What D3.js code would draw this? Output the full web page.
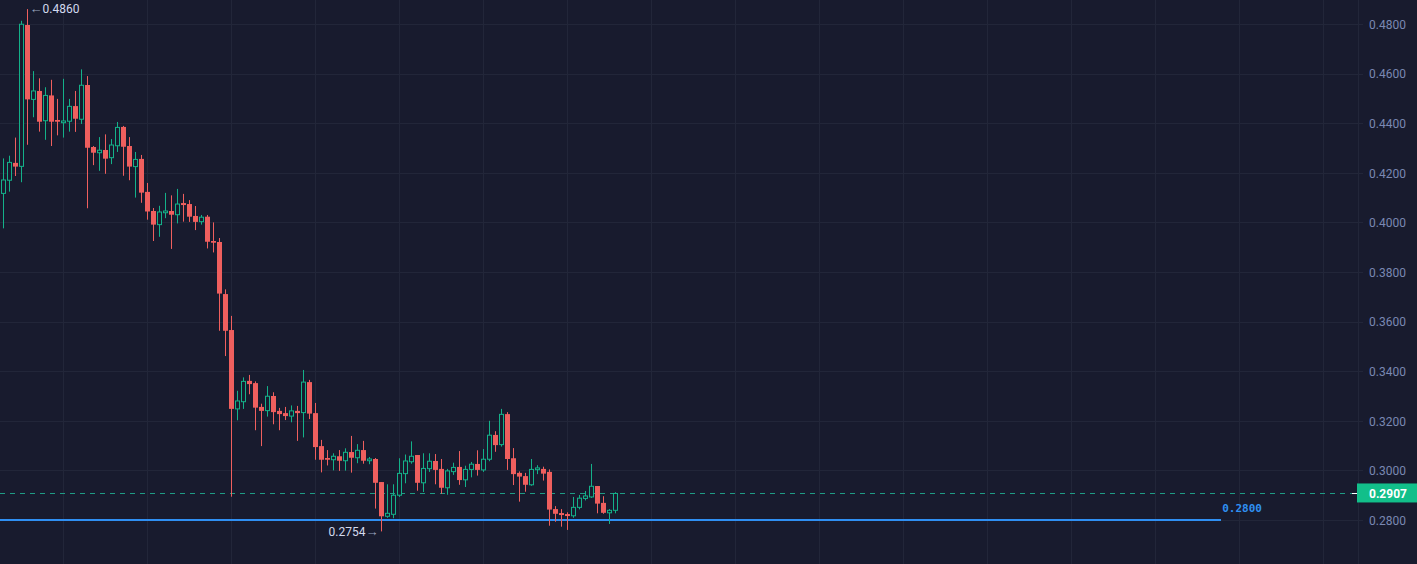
<!DOCTYPE html>
<html>
<head>
<meta charset="utf-8">
<script src="https://cdn.jsdelivr.net/npm/d3@7"></script>
<style>
  html, body { margin: 0; padding: 0; background: #181b2e; overflow: hidden; }
  svg { display: block; }
</style>
</head>
<body>
<svg id="chart" width="1417" height="564"></svg>
<script>
const opens = [0.4117,0.4170,0.4240,0.4226,0.4796,0.4496,0.4530,0.4410,0.4512,0.4413,
0.4402,0.4408,0.4469,0.4416,0.4554,0.4304,0.4281,0.4292,0.4261,0.4309,
0.4385,0.4308,0.4225,0.4256,0.4123,0.4046,0.3991,0.4039,0.4046,0.4031,
0.4078,0.4074,0.4026,0.4003,0.4023,0.3925,0.3921,0.3711,0.3566,0.3248,
0.3277,0.3361,0.3352,0.3256,0.3241,0.3300,0.3240,0.3231,0.3219,0.3240,
0.3233,0.3356,0.3231,0.3098,0.3050,0.3043,0.3057,0.3039,0.3074,0.3051,
0.3082,0.3039,0.3046,0.2953,0.2815,0.2823,0.2900,0.2987,0.3035,0.3062,
0.2950,0.3007,0.3038,0.3006,0.2930,0.2995,0.3014,0.2962,0.3004,0.3026,
0.3002,0.3045,0.3143,0.3104,0.3227,0.3049,0.2990,0.2977,0.2942,0.3003,
0.3006,0.2994,0.2844,0.2828,0.2824,0.2817,0.2851,0.2887,0.2893,0.2937,
0.2869,0.2829,0.2839];
const highs = [0.4258,0.4269,0.4342,0.4813,0.4860,0.4610,0.4581,0.4545,0.4575,0.4498,
0.4579,0.4498,0.4530,0.4617,0.4590,0.4308,0.4344,0.4355,0.4336,0.4405,
0.4389,0.4344,0.4284,0.4272,0.4159,0.4058,0.4067,0.4119,0.4109,0.4135,
0.4115,0.4090,0.4066,0.4030,0.4030,0.4000,0.3937,0.3730,0.3623,0.3321,
0.3375,0.3385,0.3359,0.3269,0.3340,0.3315,0.3252,0.3256,0.3262,0.3260,
0.3405,0.3365,0.3272,0.3123,0.3082,0.3069,0.3082,0.3089,0.3139,0.3106,
0.3119,0.3054,0.3050,0.2953,0.2944,0.2944,0.3049,0.3064,0.3117,0.3062,
0.3069,0.3069,0.3066,0.3046,0.3006,0.3031,0.3078,0.3019,0.3034,0.3081,
0.3086,0.3200,0.3158,0.3248,0.3235,0.3090,0.2996,0.2990,0.3046,0.3021,
0.3015,0.3004,0.2856,0.2844,0.2831,0.2893,0.2901,0.2917,0.3026,0.2937,
0.2896,0.2844,0.2912];
const lows = [0.3976,0.4124,0.4187,0.4162,0.4313,0.4424,0.4366,0.4333,0.4308,0.4351,
0.4342,0.4366,0.4365,0.4397,0.4057,0.4231,0.4208,0.4196,0.4235,0.4284,
0.4188,0.4170,0.4100,0.4079,0.4011,0.3925,0.3942,0.4017,0.3893,0.3996,
0.4003,0.4002,0.3969,0.3991,0.3895,0.3879,0.3563,0.3461,0.2894,0.3202,
0.3248,0.3307,0.3162,0.3098,0.3217,0.3186,0.3162,0.3203,0.3194,0.3119,
0.3133,0.3207,0.3043,0.2992,0.3020,0.3000,0.2998,0.2999,0.2991,0.3029,
0.3027,0.3025,0.2846,0.2754,0.2809,0.2807,0.2893,0.2948,0.3027,0.2918,
0.2913,0.2994,0.2944,0.2906,0.2902,0.2982,0.2942,0.2933,0.2972,0.2979,
0.2994,0.3037,0.3075,0.3096,0.3002,0.2941,0.2874,0.2914,0.2938,0.2985,
0.2959,0.2777,0.2793,0.2773,0.2760,0.2809,0.2843,0.2879,0.2889,0.2827,
0.2825,0.2784,0.2827];
const closes = [0.4171,0.4242,0.4225,0.4799,0.4496,0.4530,0.4406,0.4512,0.4406,0.4406,
0.4409,0.4468,0.4418,0.4553,0.4301,0.4281,0.4291,0.4257,0.4312,0.4383,
0.4305,0.4225,0.4254,0.4120,0.4044,0.3991,0.4042,0.4046,0.4031,0.4074,
0.4070,0.4023,0.4002,0.4021,0.3922,0.3918,0.3713,0.3563,0.3248,0.3280,
0.3359,0.3348,0.3253,0.3240,0.3299,0.3235,0.3227,0.3219,0.3240,0.3231,
0.3356,0.3229,0.3094,0.3043,0.3043,0.3057,0.3039,0.3073,0.3051,0.3081,
0.3039,0.3046,0.2950,0.2815,0.2827,0.2900,0.2988,0.3038,0.3057,0.2950,
0.3008,0.3037,0.3002,0.2930,0.2998,0.3012,0.2961,0.3004,0.3025,0.3002,
0.3045,0.3142,0.3102,0.3226,0.3046,0.2985,0.2975,0.2942,0.3004,0.3010,
0.2987,0.2842,0.2825,0.2820,0.2816,0.2851,0.2888,0.2897,0.2936,0.2866,
0.2829,0.2839,0.2907];
const yTicks = [0.28,0.30,0.32,0.34,0.36,0.38,0.40,0.42,0.44,0.46,0.48];
const xGridIdx = [10,24,38,52,66,80,94,108,122,136,150,164,178,192,206,220];
const lastPrice = 0.2907;
const levelPrice = 0.2800;
const highLabel = 0.4860;
const lowLabel = 0.2754;

const W = 1417, H = 564;
const svg = d3.select('#chart');
const bg = '#181b2e', grid = '#222639', up = '#14b189', down = '#ef5f5e';

const x = d3.scaleLinear().domain([0, 226]).range([3.5, 1359.5]);
const y = d3.scaleLinear().domain([0.28, 0.48]).range([520, 24]);
const fmt = d3.format('.4f');
const px = v => Math.round(v) + 0.5;

svg.append('rect').attr('width', W).attr('height', H).attr('fill', bg);

// grid
const g = svg.append('g');
g.selectAll('.hg').data(yTicks).join('line')
  .attr('x1', 0).attr('x2', 1363)
  .attr('y1', d => px(y(d))).attr('y2', d => px(y(d)))
  .attr('stroke', grid).attr('stroke-width', 1);
g.selectAll('.vg').data(xGridIdx).join('line')
  .attr('x1', d => Math.floor(x(d)) + 0.5).attr('x2', d => Math.floor(x(d)) + 0.5)
  .attr('y1', 0).attr('y2', H)
  .attr('stroke', grid).attr('stroke-width', 1);
g.append('line').attr('x1', 1358.5).attr('x2', 1358.5).attr('y1', 0).attr('y2', H)
  .attr('stroke', grid).attr('stroke-width', 1);

// y axis labels
const yAxis = d3.axisRight(y).tickValues(yTicks).tickFormat(fmt).tickSize(0).tickPadding(0);
const ax = svg.append('g').attr('transform', 'translate(1369,0)').call(yAxis);
ax.select('.domain').remove();
ax.selectAll('text').attr('fill', '#7a88b2').attr('font-family', 'Roboto, "Noto Sans", sans-serif')
  .attr('font-size', 12).attr('dy', '0.35em');

// level line 0.28
svg.append('line').attr('x1', 0).attr('x2', 1221)
  .attr('y1', y(levelPrice)).attr('y2', y(levelPrice))
  .attr('stroke', '#2f8ff2').attr('stroke-width', 2);
svg.append('text').attr('x', 1262).attr('y', y(levelPrice) - 12)
  .attr('text-anchor', 'end').attr('dy', '0.35em')
  .attr('fill', '#2f8ff2').attr('font-family', '"DejaVu Sans Mono", monospace')
  .attr('font-size', 11).attr('font-weight', 'bold').text(fmt(levelPrice));

// last price dashed line
svg.append('line').attr('x1', 0).attr('x2', 1352)
  .attr('y1', px(y(lastPrice))).attr('y2', px(y(lastPrice)))
  .attr('stroke', '#1f9c85').attr('stroke-width', 1).attr('stroke-dasharray', '5,5');

// candles
const data = opens.map((o, i) => ({i, o, h: highs[i], l: lows[i], c: closes[i]}));
const cg = svg.append('g');
cg.selectAll('.wick').data(data).join('line')
  .attr('x1', d => x(d.i)).attr('x2', d => x(d.i))
  .attr('y1', d => y(d.h)).attr('y2', d => y(d.l))
  .attr('stroke', d => d.c >= d.o ? up : down).attr('stroke-width', 1);
cg.selectAll('.body-down').data(data.filter(d => d.c < d.o)).join('rect')
  .attr('x', d => x(d.i) - 2.5).attr('width', 5)
  .attr('y', d => y(d.o)).attr('height', d => Math.max(1.5, y(d.c) - y(d.o)))
  .attr('fill', down);
cg.selectAll('.body-up').data(data.filter(d => d.c >= d.o)).join('rect')
  .attr('x', d => x(d.i) - 2).attr('width', 4)
  .attr('y', d => y(d.c)).attr('height', d => Math.max(1, y(d.o) - y(d.c)))
  .attr('fill', bg).attr('stroke', up).attr('stroke-width', 1);

// high / low annotations
const hiIdx = highs.indexOf(highLabel);
const loIdx = lows.indexOf(lowLabel);
const ann = svg.append('g').attr('font-family', 'Roboto, "Noto Sans", sans-serif').attr('font-size', 12);
const hi = ann.append('text').attr('x', x(hiIdx) + 2).attr('y', y(highLabel)).attr('dy', '0.35em');
hi.append('tspan').attr('fill', '#9aa3bd').attr('font-size', 13).text('\u2190');
hi.append('tspan').attr('fill', '#d3daee').attr('dx', 0).text(fmt(highLabel));
const lo = ann.append('text').attr('x', x(loIdx) - 3).attr('y', y(lowLabel)).attr('dy', '0.35em')
  .attr('text-anchor', 'end');
lo.append('tspan').attr('fill', '#d3daee').text(fmt(lowLabel));
lo.append('tspan').attr('fill', '#9aa3bd').attr('font-size', 13).attr('dx', 0).text('\u2192');

// last price label
const ly = y(lastPrice);
svg.append('line').attr('x1', 1352).attr('x2', 1357).attr('y1', px(ly)).attr('y2', px(ly))
  .attr('stroke', '#ffffff').attr('stroke-width', 1);
svg.append('rect').attr('x', 1357).attr('y', ly - 10).attr('width', 60).attr('height', 19)
  .attr('fill', '#12bf8a');
svg.append('text').attr('x', 1369).attr('y', ly).attr('dy', '0.35em')
  .attr('fill', '#ffffff').attr('font-family', 'Roboto, "Noto Sans", sans-serif')
  .attr('font-size', 12).attr('font-weight', 'bold').text(fmt(lastPrice));
</script>
</body>
</html>
